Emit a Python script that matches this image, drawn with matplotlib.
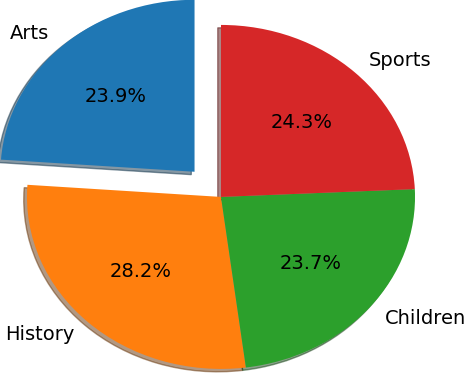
import matplotlib
matplotlib.use("Agg")
import matplotlib.pyplot as plt

categories = ["Arts", "History", "Children", "Sports"]
shares = [23.9, 28.2, 23.7, 24.3]
explode = [0.2, 0, 0, 0]
colors = ["#1f77b4", "#ff7f0e", "#2ca02c", "#d62728"]

fig = plt.figure(figsize=(4.74, 3.77), dpi=100)
ax = fig.add_axes([0, 0, 1, 1])
ax.pie(shares, labels=categories, explode=explode, colors=colors,
       autopct="%1.1f%%", shadow={"ox": -0.012, "oy": -0.012, "shade": 0.6},
       startangle=90, textprops={"fontsize": 14})
ax.set_aspect("auto")
ax.set_xlim(-1.139, 1.304)
ax.set_ylim(-1.047, 1.145)
ax.axis("off")
fig.savefig("out.png", dpi=100)
